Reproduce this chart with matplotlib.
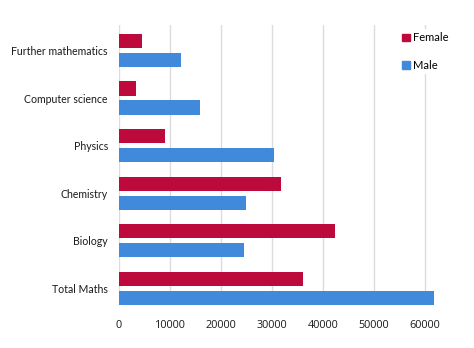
import numpy as np
import matplotlib.pyplot as plt
from matplotlib.patches import Patch

categories = ["Further mathematics", "Computer science", "Physics",
              "Chemistry", "Biology", "Total Maths"]
female = [4450, 3300, 9000, 31800, 42500, 36100]
male = [12150, 15950, 30400, 24900, 24500, 61800]
xticks = [0, 10000, 20000, 30000, 40000, 50000, 60000]

red = "#BB0A3B"
blue = "#4189DB"

fig = plt.figure(figsize=(4.74, 3.48), dpi=100)
ax = fig.add_axes([119/474, 1 - 305/348, 326/474, 280/348])

y = np.arange(len(categories))
h = 0.30
ax.barh(y - 0.2, female, height=h, color=red, label="Female", zorder=3)
ax.barh(y + 0.2, male, height=h, color=blue, label="Male", zorder=3)

ax.set_xlim(0, 64000)
ax.set_ylim(len(categories) - 1 + 0.35, -0.535)
ax.set_yticks(y)
ax.set_yticklabels(categories, fontfamily="Lato", fontsize=7.6, color="#1a1a1a")
ax.set_xticks(xticks)
ax.set_xticklabels([str(v) for v in xticks], fontfamily="Open Sans",
                   fontsize=7.8, color="#1a1a1a")
ax.tick_params(length=0)
ax.tick_params(axis="y", pad=8)
ax.tick_params(axis="x", pad=11)
for s in ax.spines.values():
    s.set_visible(False)
ax.xaxis.grid(True, color="#dcdcdc", linewidth=1, zorder=0)
ax.set_axisbelow(True)

handles = [Patch(color=red, label="Female"), Patch(color=blue, label="Male")]
leg = fig.legend(handles=handles, loc="upper left",
                 bbox_to_anchor=(399/474, 1 - 29/348), frameon=True,
                 handlelength=0.7, handleheight=0.7, handletextpad=0.3,
                 labelspacing=1.5, borderpad=0.3, borderaxespad=0,
                 prop={"family": "Lato", "size": 8})
leg.get_frame().set_edgecolor("none")
leg.get_frame().set_facecolor("white")
leg.get_frame().set_alpha(1)

fig.savefig("out.png", dpi=100)
